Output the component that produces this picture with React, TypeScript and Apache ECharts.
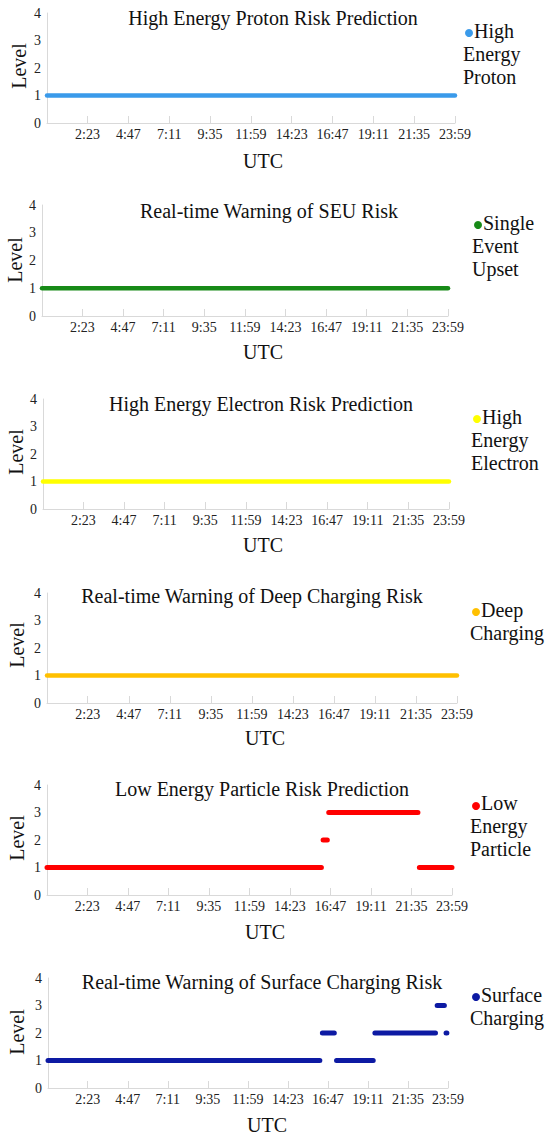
import React, { useEffect, useRef } from "react";
import * as echarts from "echarts";

const FONT = '"Liberation Serif", "Times New Roman", Times, serif';
const AXIS_FONT = "Liberation Serif";

// ---- data ----
const tickLabels = ["2:23", "4:47", "7:11", "9:35", "11:59", "14:23", "16:47", "19:11", "21:35", "23:59"];
const levelTicks = [0, 1, 2, 3, 4];

const panelTitles = [
  "High Energy Proton Risk Prediction",
  "Real-time Warning of SEU Risk",
  "High Energy Electron Risk Prediction",
  "Real-time Warning of Deep Charging Risk",
  "Low Energy Particle Risk Prediction",
  "Real-time Warning of Surface Charging Risk",
];

const legendNames = [
  ["High", "Energy", "Proton"],
  ["Single", "Event", "Upset"],
  ["High", "Energy", "Electron"],
  ["Deep", "Charging"],
  ["Low", "Energy", "Particle"],
  ["Surface", "Charging"],
];

const seriesColors = ["#3a9aea", "#178a17", "#ffff00", "#ffc000", "#ff0000", "#0d1aa3"];

// [start, end, level]
const protonSegments = [["0:00", "23:59", 1]];
const seuSegments = [["0:00", "23:59", 1]];
const electronSegments = [["0:00", "23:59", 1]];
const deepChargingSegments = [["0:00", "23:59", 1]];
const lowEnergySegments = [
  ["0:00", "16:15", 1],
  ["16:21", "16:36", 2],
  ["16:41", "21:58", 3],
  ["22:03", "23:59", 1],
];
const surfaceChargingSegments = [
  ["0:00", "16:18", 1],
  ["16:27", "17:10", 2],
  ["17:18", "19:30", 1],
  ["19:36", "23:14", 2],
  ["23:20", "23:46", 3],
  ["23:52", "23:55", 2],
];

const allSegments = [
  protonSegments,
  seuSegments,
  electronSegments,
  deepChargingSegments,
  lowEnergySegments,
  surfaceChargingSegments,
];

// ---- layout (positions only) ----
const layouts = [
  { left: 47, top: 13, width: 408, height: 110, titleX: 273, titleY: 18, dotX: 469, dotY: 33, textX: 463, textY: 31, utcX: 263, utcY: 161, levelX: 19, levelY: 66, lw: 4.5 },
  { left: 42, top: 205, width: 406, height: 111, titleX: 269, titleY: 211, dotX: 478, dotY: 225, textX: 472, textY: 223, utcX: 263, utcY: 352, levelX: 15, levelY: 260, lw: 4.5 },
  { left: 43, top: 399, width: 406, height: 110, titleX: 261, titleY: 404, dotX: 477, dotY: 419, textX: 471, textY: 417, utcX: 263, utcY: 545, levelX: 16, levelY: 452, lw: 4.5 },
  { left: 47, top: 593, width: 410, height: 110, titleX: 252, titleY: 596, dotX: 476, dotY: 612, textX: 470, textY: 610, utcX: 265, utcY: 738, levelX: 17, levelY: 645, lw: 4.5 },
  { left: 47, top: 785, width: 405, height: 110, titleX: 262, titleY: 789, dotX: 476, dotY: 806, textX: 470, textY: 803, utcX: 265, utcY: 932, levelX: 17, levelY: 838, lw: 5 },
  { left: 48, top: 978, width: 400, height: 110, titleX: 262, titleY: 982, dotX: 476, dotY: 997, textX: 470, textY: 995, utcX: 267, utcY: 1125, levelX: 17, levelY: 1032, lw: 5 },
];

function toMin(s: string): number {
  const [h, m] = s.split(":").map(Number);
  return h * 60 + m;
}
function fmtMin(v: number): string {
  const h = Math.floor(v / 60);
  const m = Math.round(v % 60);
  return `${h}:${m < 10 ? "0" + m : m}`;
}
const tickMinutes = tickLabels.map(toMin);

function buildData(segs: any[]) {
  const out: any[] = [];
  segs.forEach((s, i) => {
    if (i > 0) out.push([toMin(s[0]), null]);
    out.push([toMin(s[0]), s[2]]);
    out.push([toMin(s[1]), s[2]]);
  });
  return out;
}

export default function App() {
  const ref = useRef<HTMLDivElement>(null);
  useEffect(() => {
    if (!ref.current) return;
    const chart = echarts.init(ref.current, null, { renderer: "svg" });
    const axisColor = "#d9d9d9";
    const graphic: any[] = [];
    layouts.forEach((l, i) => {
      graphic.push({
        type: "text",
        x: l.titleX,
        y: l.titleY,
        silent: true,
        style: { text: panelTitles[i], font: `20px ${FONT}`, fill: "#111", textAlign: "center", textVerticalAlign: "middle" },
      });
      graphic.push({
        type: "circle",
        silent: true,
        shape: { cx: l.dotX, cy: l.dotY, r: 4 },
        style: { fill: seriesColors[i] },
      });
      legendNames[i].forEach((w, k) => {
        graphic.push({
          type: "text",
          x: k === 0 ? l.dotX + 5 : l.textX,
          y: l.textY + k * 23,
          silent: true,
          style: { text: w, font: `20px ${FONT}`, fill: "#111", textAlign: "left", textVerticalAlign: "middle" },
        });
      });
      graphic.push({
        type: "text",
        x: l.utcX,
        y: l.utcY,
        silent: true,
        style: { text: "UTC", font: `20px ${FONT}`, fill: "#111", textAlign: "center", textVerticalAlign: "middle" },
      });
      graphic.push({
        type: "text",
        x: l.levelX,
        y: l.levelY,
        rotation: Math.PI / 2,
        silent: true,
        style: { text: "Level", font: `20px ${FONT}`, fill: "#111", textAlign: "center", textVerticalAlign: "middle" },
      });
    });

    const option: any = {
      animation: false,
      backgroundColor: "#ffffff",
      textStyle: { fontFamily: AXIS_FONT },
      grid: layouts.map((l) => ({ left: l.left, top: l.top, width: l.width, height: l.height })),
      xAxis: layouts.map((l, i) => ({
        gridIndex: i,
        type: "value",
        min: 0,
        max: 1439,
        axisLine: { show: true, lineStyle: { color: axisColor, width: 1 } },
        axisTick: { show: true, inside: true, length: 7, lineStyle: { color: axisColor }, customValues: tickMinutes },
        axisLabel: {
          customValues: tickMinutes,
          formatter: (v: number) => fmtMin(v),
          hideOverlap: false,
          fontFamily: AXIS_FONT,
          fontSize: 14,
          color: "#222",
          margin: 4,
        },
        splitLine: { show: false },
      })),
      yAxis: layouts.map((l, i) => ({
        gridIndex: i,
        type: "value",
        min: levelTicks[0],
        max: levelTicks[levelTicks.length - 1],
        interval: 1,
        axisLine: { show: true, lineStyle: { color: axisColor, width: 1 } },
        axisTick: { show: false },
        splitLine: { show: false },
        axisLabel: { fontFamily: AXIS_FONT, fontSize: 14, color: "#222", margin: 6 },
      })),
      series: allSegments.map((segs, i) => ({
        type: "line",
        name: legendNames[i].join(" "),
        xAxisIndex: i,
        yAxisIndex: i,
        data: buildData(segs),
        showSymbol: false,
        symbol: "none",
        clip: false,
        silent: true,
        connectNulls: false,
        lineStyle: { color: seriesColors[i], width: layouts[i].lw, cap: "round" },
      })),
      graphic,
    };
    chart.setOption(option);
    return () => chart.dispose();
  }, []);
  return (
    <div
      ref={ref}
      style={{ position: "absolute", left: 0, top: 0, width: 550, height: 1135, background: "#fff" }}
    />
  );
}
